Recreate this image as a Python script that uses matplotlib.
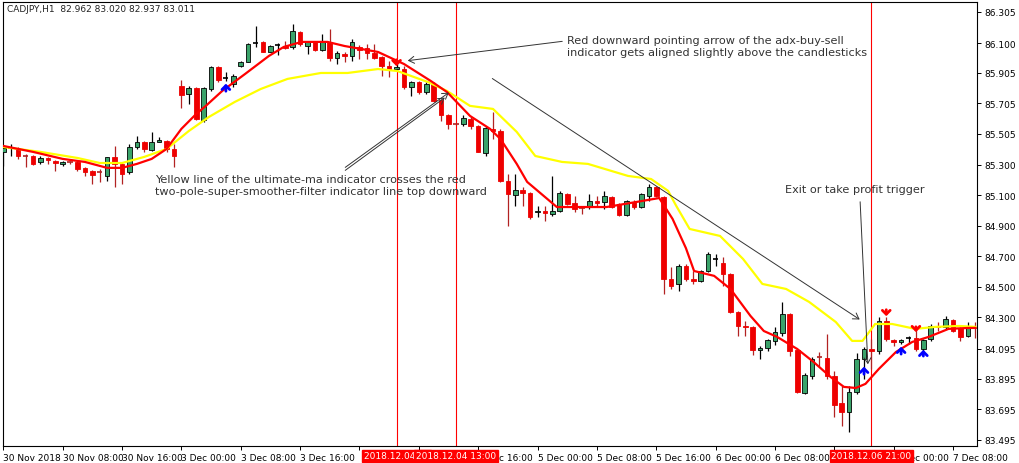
import matplotlib
matplotlib.use("Agg")
import matplotlib.pyplot as plt

opens = [85.386,85.412,85.412,85.362,85.359,85.320,85.346,85.326,85.307,85.320,85.320,85.281,85.261,85.256,85.228,85.353,85.307,85.254,85.418,85.451,
85.399,85.451,85.458,85.405,85.819,85.766,85.806,85.596,85.799,85.944,85.871,85.832,85.950,85.976,86.101,86.108,86.042,86.088,86.081,86.075,
86.173,86.081,86.108,86.055,86.108,86.003,86.029,86.016,86.075,86.068,86.035,86.009,85.950,85.930,85.930,85.812,85.845,85.779,85.832,85.727,
85.628,85.569,85.569,85.602,85.556,85.379,85.537,85.523,85.195,85.103,85.136,85.116,84.992,84.998,84.979,84.998,85.110,85.051,85.018,85.024,
85.064,85.057,85.090,85.044,84.972,85.057,85.024,85.097,85.156,85.090,84.552,84.519,84.637,84.552,84.539,84.604,84.683,84.657,84.585,84.335,
84.243,84.237,84.086,84.099,84.145,84.197,84.322,84.086,83.803,83.915,84.040,84.033,83.915,83.737,83.679,83.810,84.027,84.092,84.079,84.276,
84.151,84.138,84.164,84.164,84.092,84.158,84.243,84.237,84.283,84.230,84.178,84.232]
highs = [85.425,85.438,85.418,85.372,85.366,85.359,85.353,85.333,85.326,85.326,85.326,85.287,85.267,85.274,85.355,85.425,85.320,85.438,85.491,85.455,
85.517,85.484,85.462,85.438,85.858,85.819,85.810,85.810,85.950,85.950,85.910,85.897,85.983,86.101,86.213,86.114,86.088,86.101,86.114,86.226,
86.180,86.114,86.114,86.160,86.193,86.049,86.042,86.127,86.088,86.095,86.095,86.016,85.983,85.960,85.950,85.852,85.852,85.845,85.845,85.733,
85.635,85.572,85.628,85.615,85.560,85.556,85.648,85.537,85.241,85.241,85.156,85.123,85.031,85.031,85.228,85.129,85.116,85.097,85.031,85.110,
85.097,85.129,85.097,85.051,85.070,85.070,85.116,85.175,85.162,85.095,84.630,84.650,84.650,84.604,84.611,84.729,84.716,84.696,84.591,84.342,
84.276,84.240,84.112,84.158,84.237,84.401,84.325,84.092,83.935,84.040,84.073,84.191,83.948,83.849,83.849,84.066,84.105,84.158,84.302,84.302,
84.158,84.158,84.178,84.224,84.158,84.256,84.269,84.309,84.289,84.237,84.269,84.269]
lows = [85.294,85.359,85.340,85.287,85.300,85.307,85.307,85.261,85.294,85.307,85.261,85.228,85.175,85.188,85.195,85.156,85.175,85.241,85.405,85.386,
85.392,85.448,85.386,85.287,85.674,85.701,85.598,85.582,85.786,85.845,85.852,85.812,85.944,85.976,86.075,86.042,86.042,86.022,86.062,86.062,
86.081,86.029,86.049,86.049,85.983,85.963,85.976,85.983,85.996,85.996,85.996,85.884,85.877,85.920,85.799,85.753,85.766,85.766,85.714,85.589,
85.537,85.563,85.556,85.537,85.382,85.359,85.471,85.188,84.900,85.031,85.031,84.946,84.959,84.933,84.965,84.992,85.038,84.992,84.979,85.011,
85.031,85.011,85.018,84.965,84.965,85.011,85.018,85.064,85.090,84.453,84.486,84.473,84.539,84.519,84.532,84.597,84.637,84.506,84.329,84.178,
84.178,84.053,84.027,84.079,84.119,84.178,84.046,83.803,83.797,83.895,83.980,83.895,83.646,83.587,83.547,83.797,83.895,83.960,84.059,84.145,
84.112,84.125,84.125,84.079,84.079,84.145,84.210,84.224,84.204,84.145,84.171,84.164]
closes = [85.412,85.418,85.359,85.359,85.307,85.346,85.333,85.313,85.320,85.318,85.274,85.254,85.235,85.254,85.353,85.307,85.241,85.418,85.451,85.405,
85.451,85.464,85.405,85.359,85.760,85.806,85.602,85.806,85.944,85.858,85.873,85.884,85.976,86.095,86.104,86.042,86.081,86.090,86.068,86.180,
86.095,86.108,86.055,86.108,86.003,86.035,86.016,86.108,86.055,86.035,86.003,85.950,85.930,85.944,85.812,85.845,85.779,85.832,85.720,85.628,
85.569,85.566,85.609,85.556,85.386,85.543,85.523,85.195,85.110,85.136,85.116,84.959,84.998,84.985,84.998,85.116,85.044,85.011,85.015,85.064,
85.051,85.097,85.024,84.972,85.064,85.024,85.110,85.156,85.097,84.552,84.506,84.637,84.552,84.539,84.604,84.716,84.686,84.585,84.335,84.243,
84.237,84.086,84.099,84.151,84.204,84.322,84.079,83.810,83.922,84.027,84.037,83.915,83.725,83.679,83.810,84.027,84.092,84.079,84.276,84.158,
84.138,84.151,84.167,84.092,84.151,84.243,84.237,84.289,84.210,84.171,84.237,84.230]

red_x = [0,4,8,11,14,16,18,20,22,24,26,27.3,29.5,32.6,35.8,37.8,40.2,43.7,46,50.5,54,57.6,59.8,62.9,65.6,67,69.2,70.6,74.6,81.3,85.3,88.4,
         90.2,92,93.1,95.8,98,100.7,102.5,104.3,107,109.2,111.5,113.3,114.9,116.2,118,120.3,122.5,124.7,127.4,130.1,131]
red_y = [85.425,85.386,85.340,85.320,85.281,85.281,85.307,85.340,85.405,85.537,85.635,85.688,85.786,85.898,86.016,86.075,86.108,86.108,86.081,
         86.042,85.963,85.852,85.779,85.622,85.537,85.471,85.307,85.189,85.024,85.024,85.057,85.083,84.946,84.754,84.604,84.572,84.486,84.309,
         84.210,84.171,84.092,84.007,83.908,83.843,83.836,83.863,83.961,84.072,84.138,84.171,84.224,84.230,84.230]
yel_x = [0,5,10,13,16,19,22,25,27.7,31.2,34.7,38.3,42.8,46.4,50.5,53.1,57.2,59.8,62.9,66,69.2,71.7,75.3,78.8,84.2,87.3,89.6,90.7,92.5,96.6,
         99.7,102.3,105.5,108.6,112.2,114.4,115.8,117.5,119.8,122.9,125.6,128.8,131]
yel_y = [85.418,85.386,85.346,85.313,85.313,85.353,85.405,85.523,85.615,85.714,85.799,85.865,85.904,85.904,85.930,85.917,85.845,85.786,85.688,
         85.668,85.517,85.359,85.320,85.307,85.228,85.208,85.130,85.031,84.880,84.834,84.683,84.519,84.486,84.401,84.269,84.145,84.145,84.256,
         84.256,84.224,84.237,84.243,84.237]

buy_bars = [30,116,121,124]
buy_tail = [85.766,83.908,84.040,84.027]
buy_tip = [85.852,83.994,84.125,84.105]
sell_bars = [53,119,123]
sell_tail = [86.009,84.368,84.256]
sell_tip = [85.930,84.289,84.184]

yticks = [86.305,86.100,85.905,85.705,85.505,85.300,85.100,84.900,84.700,84.500,84.300,84.095,83.895,83.695,83.495]
xtick_bars = list(range(0,129,8))
xtick_labels = ["30 Nov 2018","30 Nov 08:00","30 Nov 16:00","3 Dec 00:00","3 Dec 08:00","3 Dec 16:00","","",
                "4 Dec 16:00","5 Dec 00:00","5 Dec 08:00","5 Dec 16:00","6 Dec 00:00","6 Dec 08:00","","7 Dec 00:00","7 Dec 08:00"]
vline_bars = [53,61,117]
vline_labels = ["2018.12.04 05","2018.12.04 13:00","2018.12.06 21:00"]

W, H = 1020, 464
fig = plt.figure(figsize=(W/100, H/100), dpi=100)
ax = fig.add_axes([3/W, 17/H, 974/W, 444/H])
ax.set_xlim(-0.04, 131.23)
ax.set_ylim(83.455, 86.370)

green = "#3aa36a"
for i,(o,h,l,c) in enumerate(zip(opens,highs,lows,closes)):
    up = c >= o
    wc = "black" if up else "#b22222"
    ax.vlines(i, l, h, color=wc, lw=0.9, zorder=2)
    bot, top = min(o,c), max(o,c)
    if top-bot < 0.006:
        ax.hlines((o+c)/2, i-0.35, i+0.35, color=wc, lw=1.2, zorder=3)
    else:
        ax.bar(i, top-bot, bottom=bot, width=0.62, color=green if up else "#ee0000",
               edgecolor="black" if up else "#ee0000", lw=0.6, zorder=3)

ax.plot(yel_x, yel_y, color="#ffff00", lw=1.6, zorder=4)
ax.plot(red_x, red_y, color="#ff0000", lw=1.6, zorder=5)

astyle = "->,head_length=0.28,head_width=0.28"
for b,t0,t1 in zip(buy_bars,buy_tail,buy_tip):
    ax.annotate("", xy=(b,t1), xytext=(b,t0), arrowprops=dict(arrowstyle=astyle, color="#0000ff", lw=2.0), zorder=6)
for b,t0,t1 in zip(sell_bars,sell_tail,sell_tip):
    ax.annotate("", xy=(b,t1), xytext=(b,t0), arrowprops=dict(arrowstyle=astyle, color="#ff0000", lw=2.0), zorder=6)

for b in vline_bars:
    ax.axvline(b, color="#ff0000", lw=0.8, zorder=1)

ax.yaxis.tick_right()
ax.set_yticks(yticks)
ax.set_yticklabels([f"{v:.3f}" for v in yticks], fontsize=6.5)
ax.set_xticks(xtick_bars)
ax.set_xticklabels(xtick_labels, fontsize=6.5, ha="left")
ax.tick_params(axis="both", length=3, width=0.7, pad=2)
for s in ax.spines.values():
    s.set_linewidth(0.8)

for b,lab in zip(vline_bars, vline_labels):
    ax.text(b, -0.012, lab, transform=ax.get_xaxis_transform(), ha="center", va="top", fontsize=6.5, color="white",
            bbox=dict(boxstyle="square,pad=0.2", fc="#ff0000", ec="#ff0000"), zorder=10, clip_on=False)

def fp(x, y):
    return (x/W, 1-y/H)

fig.text(*fp(7,9), "CADJPY,H1  82.962 83.020 82.937 83.011", fontsize=6.5, va="center", ha="left", color="#222")
txtc = "#333333"
fig.text(*fp(567,47), "Red downward pointing arrow of the adx-buy-sell\nindicator gets aligned slightly above the candlesticks",
         fontsize=8.1, va="center", ha="left", color=txtc, linespacing=1.25)
fig.text(*fp(155,186), "Yellow line of the ultimate-ma indicator crosses the red\ntwo-pole-super-smoother-filter indicator line top downward",
         fontsize=8.1, va="center", ha="left", color=txtc, linespacing=1.25)
fig.text(*fp(785,190), "Exit or take profit trigger", fontsize=8.1, va="center", ha="left", color=txtc)

def farrow(x0,y0,x1,y1):
    fig.add_artist(matplotlib.patches.FancyArrowPatch(fp(x0,y0), fp(x1,y1), transform=fig.transFigure,
                   arrowstyle="->,head_length=4,head_width=2.5", color="#333333", lw=0.7))
farrow(565,42,405,62)
farrow(343,170,451,92)
farrow(343,173,447,97)
farrow(490,78,862,322)
farrow(860,200,868,368)

fig.savefig("out.png", dpi=100, facecolor="white")
